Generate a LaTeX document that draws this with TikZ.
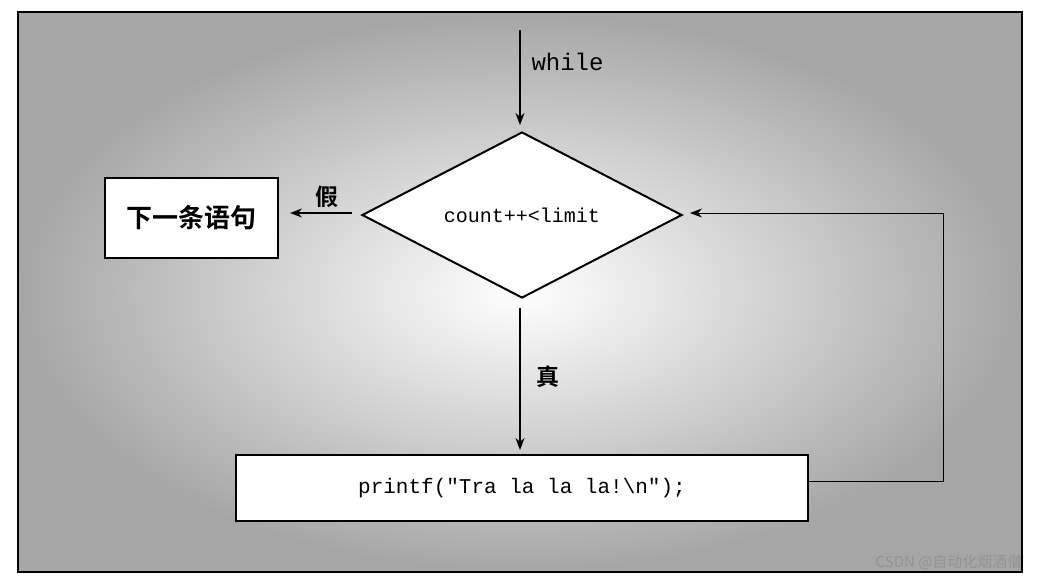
\documentclass[tikz,border=0pt]{standalone}
\usepackage{fontspec}
\setmonofont{Liberation Mono}
\newfontfamily\cjk{Noto Sans CJK SC}
\newfontfamily\cjkb{Noto Sans CJK SC Bold}
\usetikzlibrary{shapes.geometric,arrows.meta}
\begin{document}
\begin{tikzpicture}[x=1pt,y=-1pt,
  arr/.style={draw,line width=1.2pt,-{Stealth[length=12pt,width=9pt]}},
  lbl/.style={font=\cjkb\fontsize{23}{25}\selectfont},
  boxst/.style={draw,line width=2pt,fill=white,inner sep=0pt}]
\useasboundingbox (0,0) rectangle (1041,582);
\shade[inner color=white,outer color=black!35] (18,12) rectangle (1022,572);
\draw[line width=2pt] (18,12) rectangle (1022,572);
\node[draw,line width=2pt,fill=white,diamond,minimum width=320pt,minimum height=166pt,inner sep=0pt,aspect=1.93] (d) at (522,215) {};
\node[font=\ttfamily\fontsize{20}{22}\selectfont] at (d) {count++<limit};
\node[boxst,minimum width=173pt,minimum height=80pt,font=\cjkb\fontsize{26}{28}\selectfont] (n) at (191,218) {下一条语句};
\node[boxst,minimum width=572pt,minimum height=66pt,font=\ttfamily\fontsize{21}{23}\selectfont] (p) at (522,488) {printf("Tra la la la!\textbackslash n");};
\coordinate (top) at (520,30);
\node[font=\ttfamily\fontsize{24}{26}\selectfont,anchor=west] (w) at (528,62) {while};
\draw[arr] (top) -- (520,125);
\draw[arr] (352,213) -- (290,213);
\node[lbl] (f) at (327,197) {假};
\draw[arr] (520,308) -- (520,450);
\node[lbl] (t) at (548,377) {真};
\coordinate (c1) at (943,481);
\coordinate (c2) at (943,213);
\draw[arr,line width=1pt] (p.east |- c1) -- (c1) -- (c2) -- (690,213);
\node[font=\cjk\fontsize{15}{17}\selectfont,text=gray!85,anchor=east] (wm) at (1026,562) {CSDN @自动化烟酒僧};
\end{tikzpicture}
\end{document}
